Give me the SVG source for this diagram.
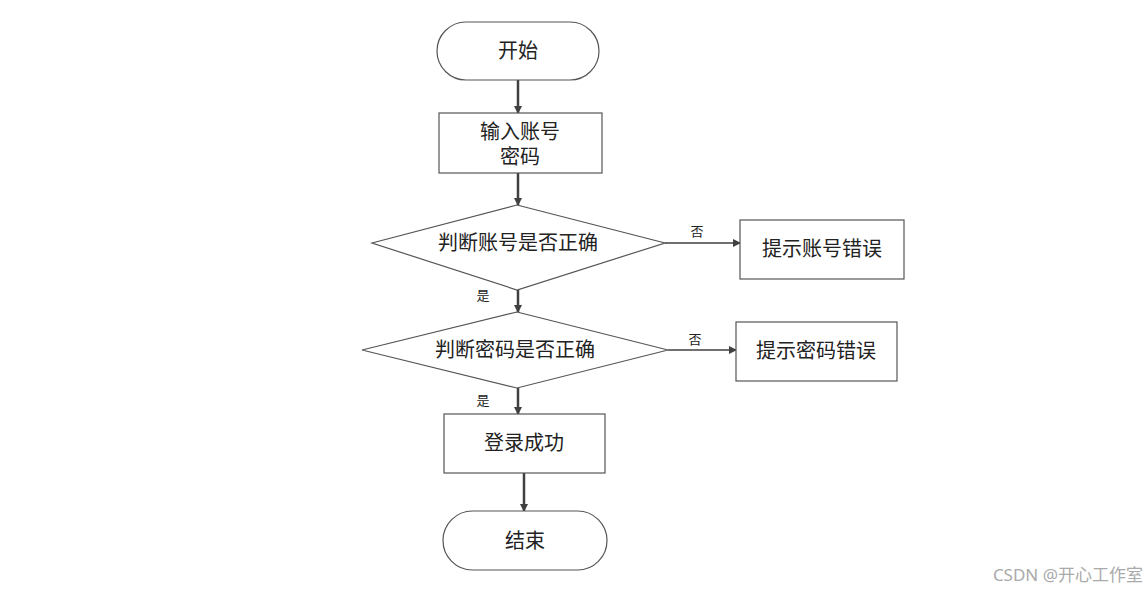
<svg xmlns="http://www.w3.org/2000/svg" width="1147" height="594" viewBox="0 0 1147 594">
<style>
.s{fill:#fff;stroke:#555;stroke-width:1.2}
.t{font-family:"Liberation Serif","Noto Sans CJK SC",serif;font-size:20px;fill:#222;text-anchor:middle}
.l{font-family:"Liberation Serif","Noto Sans CJK SC",serif;font-size:13px;fill:#222;text-anchor:middle}
.c{stroke:#404040;stroke-width:2.5;fill:none;marker-end:url(#a)}
</style>
<defs><marker id="a" markerWidth="8" markerHeight="8" refX="7" refY="4" orient="auto" markerUnits="userSpaceOnUse" viewBox="0 0 8 8"><path d="M0,0L8,4L0,8z" fill="#404040"/></marker></defs>
<rect width="1147" height="594" fill="#fff"/>
<g id="connectors">
<path class="c" d="M518,80V113"/>
<path class="c" d="M518,173V205"/>
<path class="c" d="M518,290V312"/>
<path class="c" d="M518,388V414"/>
<path class="c" d="M524,473V511"/>
<path class="c" d="M665,243H740" style="stroke-width:1.5"/>
<path class="c" d="M668,350H736" style="stroke-width:1.5"/>
<text class="l" x="697" y="236">否</text>
<text class="l" x="695" y="344">否</text>
<text class="l" x="483" y="300">是</text>
<text class="l" x="483" y="405">是</text>
</g>
<g id="start"><rect class="s" x="437" y="22" width="162" height="58" rx="29"/><text class="t" x="518" y="58">开始</text></g>
<g id="input"><rect class="s" x="439" y="113" width="163" height="60"/><text class="t" x="520" y="139">输入账号</text><text class="t" x="520" y="164">密码</text></g>
<g id="d1"><polygon class="s" points="517,205 665,243 517,290 372,243"/><text class="t" x="518" y="250">判断账号是否正确</text></g>
<g id="err1"><rect class="s" x="740" y="220" width="164" height="59"/><text class="t" x="822" y="256">提示账号错误</text></g>
<g id="d2"><polygon class="s" points="517,312 668,350 517,388 362,350"/><text class="t" x="515" y="357">判断密码是否正确</text></g>
<g id="err2"><rect class="s" x="736" y="322" width="161" height="59"/><text class="t" x="816" y="358">提示密码错误</text></g>
<g id="ok"><rect class="s" x="444" y="414" width="161" height="59"/><text class="t" x="524" y="450">登录成功</text></g>
<g id="end"><rect class="s" x="443" y="511" width="164" height="59" rx="29.5"/><text class="t" x="525" y="548">结束</text></g>
<text x="1143" y="581" style="font-family:'Noto Sans','Noto Sans CJK SC',sans-serif;font-size:17px;fill:#aaa;text-anchor:end">CSDN @开心工作室</text>
</svg>
